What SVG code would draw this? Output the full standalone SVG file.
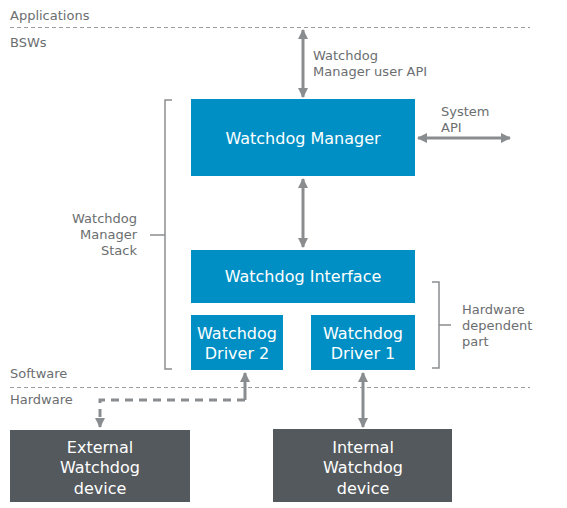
<svg xmlns="http://www.w3.org/2000/svg" width="567" height="508" viewBox="0 0 567 508">
<defs>
<style>
.lbl{font-family:"DejaVu Sans",Verdana,sans-serif;font-size:13px;fill:#6b6e70}
.box{fill:#008fc4}
.dev{fill:#54595d}
.bt{font-family:"DejaVu Sans",Verdana,sans-serif;font-size:16px;fill:#ffffff;text-anchor:middle}
.sep{stroke:#9a9c9e;stroke-width:1;stroke-dasharray:4,3;fill:none}
.ar{stroke:#8a8d90;stroke-width:3;fill:none}
.br{stroke:#8a8d90;stroke-width:1.5;fill:none}
</style>
<marker id="ah" viewBox="0 0 10 10" refX="9" refY="5" markerWidth="3.5" markerHeight="3.5" orient="auto-start-reverse" markerUnits="strokeWidth">
<path d="M0,0 L10,5 L0,10 z" fill="#8a8d90"/>
</marker>
</defs>
<rect width="567" height="508" fill="#ffffff"/>
<g id="layers">
<line class="sep" x1="10" y1="27.5" x2="530" y2="27.5"/>
<line class="sep" x1="10" y1="387.5" x2="530" y2="387.5"/>
<text class="lbl" x="10" y="20">Applications</text>
<text class="lbl" x="10" y="47">BSWs</text>
<text class="lbl" x="10" y="378">Software</text>
<text class="lbl" x="10" y="404">Hardware</text>
</g>
<g id="connectors">
<line class="ar" x1="303" y1="30" x2="303" y2="97" marker-start="url(#ah)" marker-end="url(#ah)"/>
<line class="ar" x1="418" y1="138" x2="510" y2="138" marker-start="url(#ah)" marker-end="url(#ah)"/>
<line class="ar" x1="303" y1="179" x2="303" y2="247" marker-start="url(#ah)" marker-end="url(#ah)"/>
<line class="ar" x1="363" y1="373" x2="363" y2="427" marker-start="url(#ah)" marker-end="url(#ah)"/>
<line class="ar" x1="245" y1="400" x2="245" y2="373" marker-end="url(#ah)"/>
<path class="ar" d="M245,400 H100 V427" stroke-dasharray="8,6" marker-end="url(#ah)"/>
</g>
<g id="labels">
<text class="lbl" x="313" y="60">Watchdog</text>
<text class="lbl" x="313" y="76">Manager user API</text>
<text class="lbl" x="441" y="116">System</text>
<text class="lbl" x="441" y="132">API</text>
</g>
<g id="stack-brace">
<path class="br" d="M172,100 H165 V369 H172 M165,235 H150"/>
<text class="lbl" x="137" y="223" text-anchor="end">Watchdog</text>
<text class="lbl" x="137" y="239" text-anchor="end">Manager</text>
<text class="lbl" x="137" y="255" text-anchor="end">Stack</text>
</g>
<g id="hw-brace">
<path class="br" d="M432,282 H439 V368 H432 M439,325 H451"/>
<text class="lbl" x="462" y="314">Hardware</text>
<text class="lbl" x="462" y="330">dependent</text>
<text class="lbl" x="462" y="346">part</text>
</g>
<g id="wdgm">
<rect class="box" x="191" y="99" width="224" height="77"/>
<text class="bt" x="303" y="144">Watchdog Manager</text>
</g>
<g id="wdgif">
<rect class="box" x="191" y="250" width="224" height="53"/>
<text class="bt" x="303" y="282">Watchdog Interface</text>
</g>
<g id="drv2">
<rect class="box" x="191" y="315" width="92" height="55"/>
<text class="bt" x="237" y="339">Watchdog</text>
<text class="bt" x="237" y="359">Driver 2</text>
</g>
<g id="drv1">
<rect class="box" x="311" y="315" width="104" height="55"/>
<text class="bt" x="363" y="339">Watchdog</text>
<text class="bt" x="363" y="359">Driver 1</text>
</g>
<g id="extdev">
<rect class="dev" x="10" y="430" width="180" height="72"/>
<text class="bt" x="100" y="453">External</text>
<text class="bt" x="100" y="473">Watchdog</text>
<text class="bt" x="100" y="494">device</text>
</g>
<g id="intdev">
<rect class="dev" x="273" y="429" width="179" height="73"/>
<text class="bt" x="363" y="453">Internal</text>
<text class="bt" x="363" y="473">Watchdog</text>
<text class="bt" x="363" y="494">device</text>
</g>
</svg>
